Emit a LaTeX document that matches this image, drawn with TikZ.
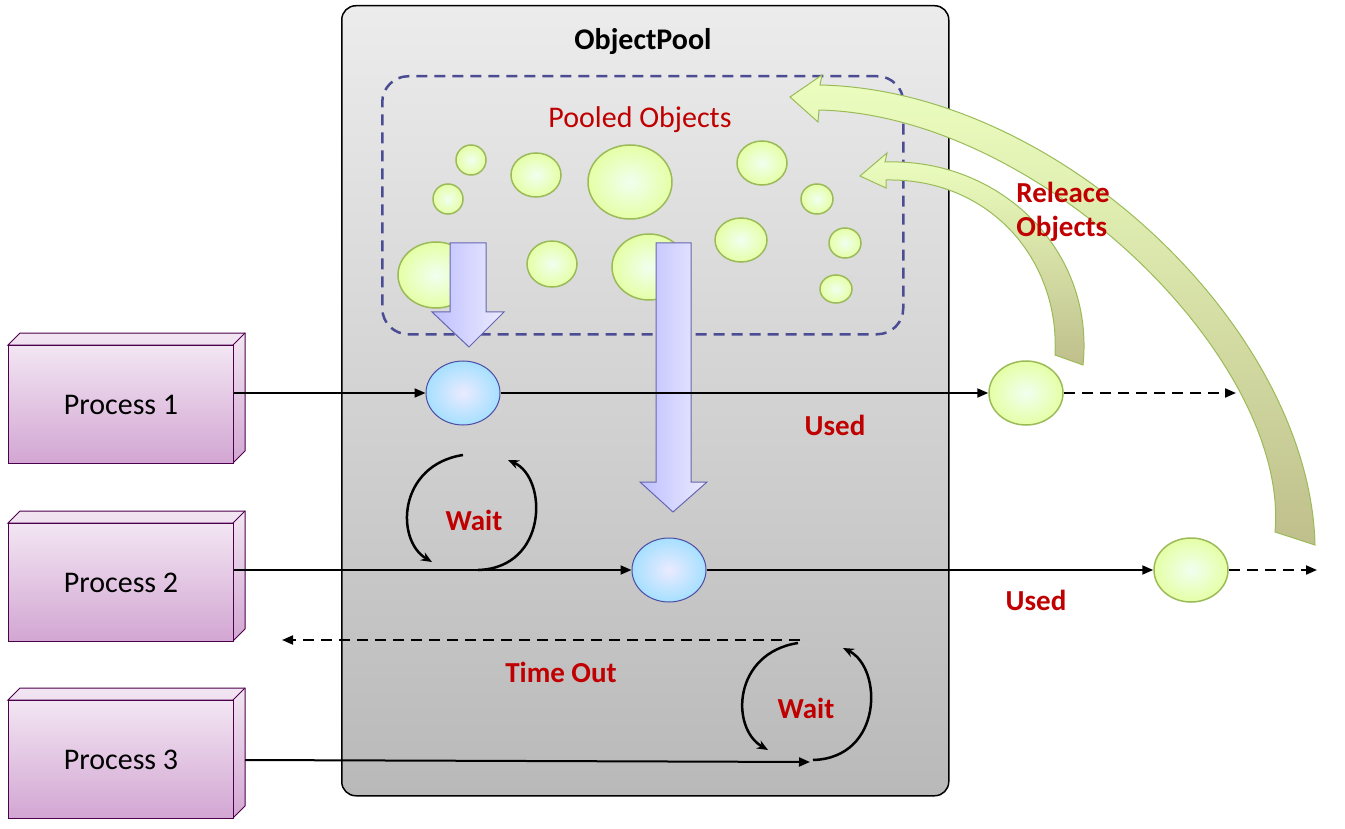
\documentclass[tikz,border=0pt]{standalone}
\usepackage{fontspec}
\setmainfont{Carlito}
\usetikzlibrary{arrows.meta,shapes.geometric}
\definecolor{red1}{HTML}{C00000}
\definecolor{gedge}{HTML}{9BBB59}
\tikzset{
 ball/.style={draw=gedge,line width=1.5pt,inner color=white!70!green!20,outer color=green!30!yellow!35},
 blueball/.style={draw=blue!50!black!70,line width=1pt,inner color=blue!8,outer color=blue!35!cyan!35},
 proc/.style={draw=violet!60!black,line width=1pt,top color=violet!10,bottom color=violet!35},
 conn/.style={line width=2pt,-{Stealth[length=11pt,width=9pt,inset=0pt]}},
 dconn/.style={conn,dash pattern=on 11pt off 7pt},
 lbl/.style={text=red1,font=\fontsize{29}{34}\selectfont\bfseries},
 warc/.style={line width=2.5pt,-{Stealth[length=11pt,width=9pt]}},
 bigarrow/.style={draw=blue!50!black!60,line width=1pt,left color=blue!25,right color=blue!8},
 garrow/.style={draw=gedge,line width=1pt,top color=green!30!yellow!25,bottom color=olive!40!gray!50}
}
\begin{document}
\begin{tikzpicture}[x=1pt,y=-1pt]
\useasboundingbox (0,0) rectangle (1345,829);
\node[draw=black,line width=1.5pt,rounded corners=14pt,top color=gray!15,bottom color=gray!55,minimum width=607pt,minimum height=790pt,anchor=north west] (pool) at (341,5) {};
\node[font=\fontsize{30}{34}\selectfont\bfseries] (title) at (643,42) {ObjectPool};
\node[draw=blue!40!black!70,line width=2.5pt,dash pattern=on 11pt off 7pt,rounded corners=26pt,minimum width=521pt,minimum height=258pt,anchor=north west] (pooled) at (381,75) {};
\node[text=red1,font=\fontsize{30}{34}\selectfont] (plabel) at (640,120) {Pooled Objects};
\foreach \x/\y/\a/\b in {471/160/15/15,448/199/15/15,536/175/25/22,630/182/42/37,762/163/25/22,817/199/16/15,741/240/26/22,845/243/16/15,836/289/16/14,436/275/38/33,552/264/25/23,649/267/37/33}
  \fill[ball] (\x,\y) ellipse [x radius=\a,y radius=\b];
% big blue arrows
\path[bigarrow] (450,243) -- (486,243) -- (486,312) -- (504,312) -- (469,347) -- (432,312) -- (450,312) -- cycle;
\path[bigarrow] (656,243) -- (691,243) -- (691,482) -- (707,482) -- (673,512) -- (640,482) -- (656,482) -- cycle;
% object ellipses
\node[blueball,ellipse,minimum width=74pt,minimum height=64pt] (o1) at (463,393) {};
\node[blueball,ellipse,minimum width=74pt,minimum height=64pt] (o2) at (669,570) {};
\node[ball,ellipse,minimum width=74pt,minimum height=64pt] (u1) at (1026,393) {};
\node[ball,ellipse,minimum width=74pt,minimum height=64pt] (u2) at (1191,570) {};
% processes
\foreach \n/\y/\t in {p1/345/Process 1,p2/523/Process 2,p3/700/Process 3}{
  \path[proc] (8,\y) -- (20,\y-12) -- (245,\y-12) -- (245,\y+106) -- (233,\y+118) -- (233,\y) -- cycle;
  \draw[violet!60!black,line width=1pt] (233,\y) -- (245,\y-12);
  \node[proc,minimum width=225pt,minimum height=118pt,anchor=north west,font=\fontsize{30}{34}\selectfont] (\n) at (8,\y) {\t};
}
\coordinate (e1) at (1236,393);
\coordinate (e2) at (1317,570);
\coordinate (t1) at (800,640);
\coordinate (t2) at (282,640);
\coordinate (w3) at (810,762);
\draw[conn] (p1.east|-o1) -- (o1);
\draw[conn] (o1) -- (u1);
\draw[dconn] (u1) -- (e1);
\draw[conn] (p2.east|-o2) -- (o2);
\draw[conn] (o2) -- (u2);
\draw[dconn] (u2) -- (e2);
\draw[dconn] (t1) -- (t2);
\draw[conn] (245,760) -- (w3);
% wait arcs
\draw[warc] (463,455) .. controls (398,465) and (395,540) .. (432,562);
\draw[warc] (478,570) .. controls (548,568) and (548,478) .. (508,460);
\draw[warc] (798,643) .. controls (733,653) and (730,728) .. (768,750);
\draw[warc] (813,760) .. controls (883,758) and (883,668) .. (843,648);
% green return arrows
\path[garrow] (1315,545) .. controls (1310,330) and (1060,90) .. (820,85) -- (822,75) -- (790,97) -- (818,122) -- (819,110) .. controls (1040,115) and (1290,360) .. (1275,532) -- cycle;
\path[garrow] (1083,365) .. controls (1095,250) and (1000,158) .. (885,162) -- (887,153) -- (860,176) -- (886,188) -- (886,180) .. controls (990,178) and (1060,260) .. (1055,355) -- cycle;
\node[lbl] (w1) at (474,520) {Wait};
\node[lbl] (w2) at (806,708) {Wait};
\node[lbl] (us1) at (835,425) {Used};
\node[lbl] (us2) at (1036,600) {Used};
\node[lbl] (to) at (561,672) {Time Out};
\node[lbl,align=left] (rel) at (1063,212) {Releace\\Objects};
\end{tikzpicture}
\end{document}
